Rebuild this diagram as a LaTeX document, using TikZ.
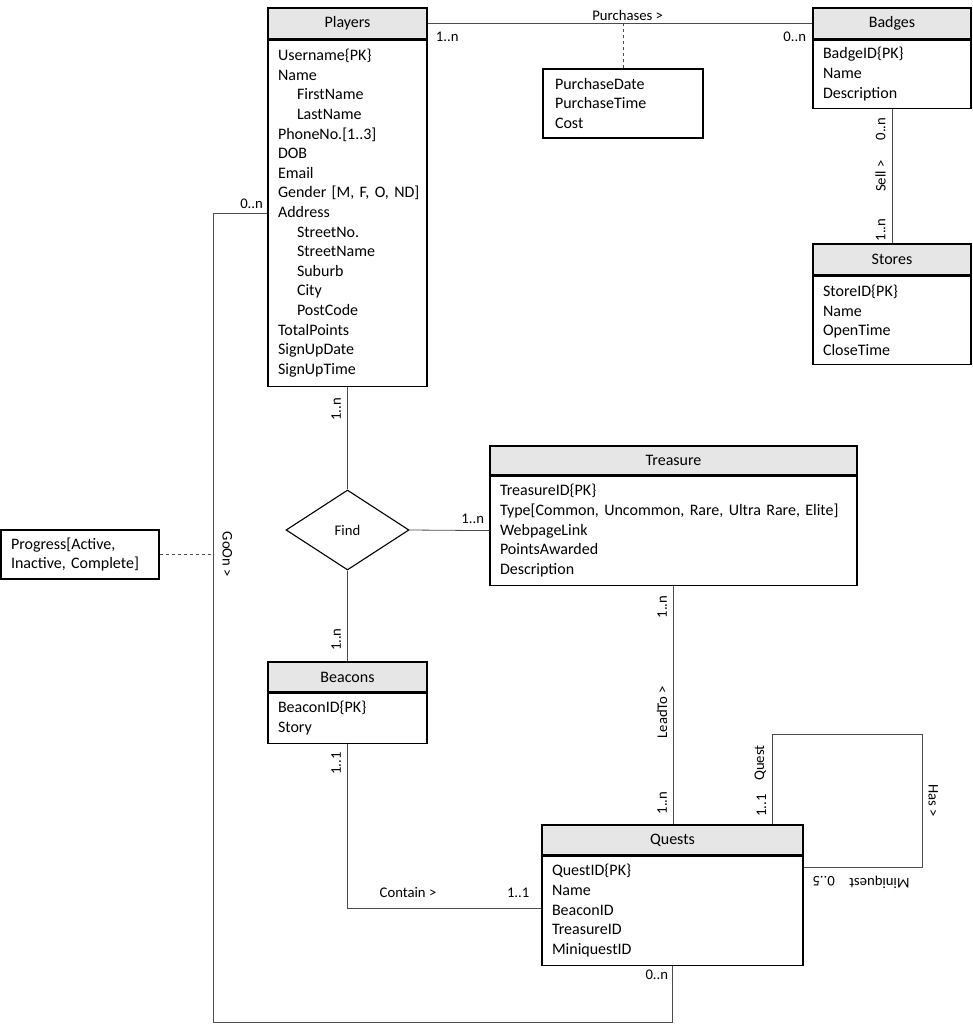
\documentclass[tikz,border=0pt]{standalone}
\usepackage{fontspec}
\setmainfont{Carlito}
\usetikzlibrary{positioning,calc,shapes.geometric}

\definecolor{headgray}{HTML}{E6E6E6}

\tikzset{
    head/.style={draw, fill=headgray, line width=1.1pt, inner sep=0pt, minimum height=31pt,
        font=\fontsize{16}{19.6}\selectfont},
    attrs/.style={draw, line width=1.1pt, anchor=north, align=left, inner xsep=10pt, inner ysep=0pt,
        font=\fontsize{16}{19.6}\selectfont},
    rel/.style={draw=black!70, line width=0.8pt},
    lbl/.style={font=\fontsize{14.7}{17}\selectfont, inner sep=2pt},
    rlbl/.style={lbl, rotate=90, anchor=south, inner sep=6pt},
}

\begin{document}
\begin{tikzpicture}[x=1pt,y=-1pt]
    \useasboundingbox (0,0) rectangle (972,1024);

    % entities
    \node[head, minimum width=159] (players) at (347.5,23.5) {Players};
    \node[attrs, text width=139, minimum height=346] (playersattr) at (players.south) {%
        Username\{PK\}\\ Name\\ \hspace*{19pt}FirstName\\ \hspace*{19pt}LastName\\
        PhoneNo.[1..3]\\ DOB\\ Email\\ Gender~[M,~F,~O,~ND]\\ Address\\
        \hspace*{19pt}StreetNo.\\ \hspace*{19pt}StreetName\\ \hspace*{19pt}Suburb\\
        \hspace*{19pt}City\\ \hspace*{19pt}PostCode\\ TotalPoints\\ SignUpDate\\ SignUpTime};

    \node[head, minimum width=158] (badges) at (892,23.5) {Badges};
    \node[attrs, text width=138, minimum height=68] (badgesattr) at (badges.south) {%
        BadgeID\{PK\}\\ Name\\ Description};

    \node[head, minimum width=158] (stores) at (892,259.5) {Stores};
    \node[attrs, text width=138, minimum height=88] (storesattr) at (stores.south) {%
        StoreID\{PK\}\\ Name\\ OpenTime\\ CloseTime};

    \node[head, minimum width=367, minimum height=29] (treasure) at (673.5,460.5) {Treasure};
    \node[attrs, text width=347, minimum height=109] (treasureattr) at (treasure.south) {%
        TreasureID\{PK\}\\ Type[Common, Uncommon, Rare, Ultra Rare, Elite]\\ WebpageLink\\
        PointsAwarded\\ Description};

    \node[head, minimum width=159, minimum height=30] (beacons) at (347.5,677) {Beacons};
    \node[attrs, text width=139, minimum height=50] (beaconsattr) at (beacons.south) {%
        BeaconID\{PK\}\\ Story};

    \node[head, minimum width=261, minimum height=30] (quests) at (672.5,840) {Quests};
    \node[attrs, text width=241, minimum height=109] (questsattr) at (quests.south) {%
        QuestID\{PK\}\\ Name\\ BeaconID\\ TreasureID\\ MiniquestID};

    % relationship attributes and the Find relation
    \node[attrs, anchor=center, text width=136, inner xsep=12pt, minimum height=69] (purchattr) at (623,103.5) {%
        PurchaseDate\\ PurchaseTime\\ Cost};
    \node[attrs, anchor=center, text width=138, minimum height=49] (progress) at (80,554.5) {%
        Progress[Active,\\ Inactive, Complete]};
    \node[diamond, draw, line width=1.1pt, minimum width=123, minimum height=80, inner sep=0pt,
        font=\fontsize{14.7}{17}\selectfont] (find) at (347.5,530) {Find};

    % Purchases
    \draw[rel] (players.east) -- (badges.west)
        node[lbl, pos=0.52, above] {Purchases >}
        node[lbl, pos=0, below right, xshift=6, yshift=-6] {1..n}
        node[lbl, pos=1, below left, xshift=-4, yshift=-6] {0..n};
    \draw[rel, dashed] (purchattr.north) -- (purchattr.north |- players.east);

    % Sell
    \draw[rel] (badgesattr.south) -- (stores.north)
        node[rlbl, pos=0.15] {0..n}
        node[rlbl, pos=0.5] {Sell >}
        node[rlbl, pos=0.9] {1..n};

    % Find
    \draw[rel] (playersattr.south) -- (find.north)
        node[rlbl, pos=0.22] {1..n};
    \draw[rel] (find.east) -- (treasureattr.west)
        node[lbl, pos=1, above left, xshift=-3, yshift=5] {1..n};
    \draw[rel] (find.south) -- (beacons.north)
        node[rlbl, pos=0.76] {1..n};

    % LeadTo
    \draw[rel] (treasureattr.south) -- (treasureattr.south |- quests.north)
        node[rlbl, pos=0.09] {1..n}
        node[rlbl, pos=0.53] {LeadTo >}
        node[rlbl, pos=0.91] {1..n};

    % Contain
    \draw[rel] (beaconsattr.south) |- ([yshift=2.5pt]questsattr.west)
        node[rlbl, pos=0.06] {1..1}
        node[lbl, pos=0.656, above, yshift=8] {Contain >}
        node[lbl, pos=0.94, above, yshift=8] {1..1};

    % Has (quest to miniquest)
    \coordinate (hasloop) at (922,734);
    \draw[rel] ([xshift=-31pt]quests.north east) |- (hasloop)
        node[rlbl, pos=0.104] {1..1}
        node[rlbl, pos=0.34] {Quest}
        |- ([yshift=-12pt]questsattr.north east)
        node[rlbl, pos=0.25, rotate=180] {Has >}
        node[rlbl, pos=0.915, rotate=90, inner sep=8pt] {0..5}
        node[rlbl, pos=0.68, rotate=90, inner sep=8pt] {Miniquest};

    % GoOn
    \coordinate (goonbend) at (213,1022);
    \draw[rel] (playersattr.west) -| (goonbend)
        node[lbl, pos=0.02, above left, yshift=2] {0..n}
        node[rlbl, pos=0.711, rotate=180, inner sep=9pt] {GoOn >}
        -| (questsattr.south)
        node[lbl, pos=0.92, left, xshift=-2] {0..n};
    \draw[rel, dashed] (progress.east) -- (progress.east -| goonbend);
\end{tikzpicture}
\end{document}
